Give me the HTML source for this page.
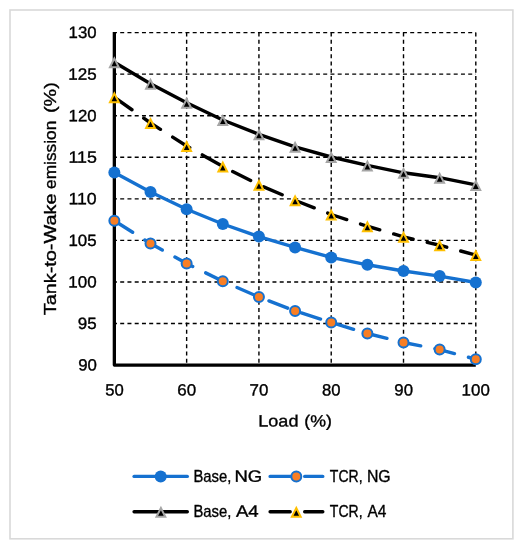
<!DOCTYPE html>
<html lang="en"><head><meta charset="utf-8"><title>Tank-to-Wake emission vs Load</title>
<style>
html,body{margin:0;padding:0;background:#fff}
body{width:524px;height:550px;overflow:hidden}
svg{display:block}
svg text{font-family:"Liberation Sans",sans-serif;font-size:16.4px;fill:#000;stroke:#000;stroke-width:0.35px}
</style></head><body>
<svg width="524" height="550" viewBox="0 0 524 550">
<rect x="0" y="0" width="524" height="550" fill="#fff"/>
<rect x="10" y="10" width="502.9" height="528.8" fill="#fff" stroke="#d9d9d9" stroke-width="1.6"/>
<g stroke="#000" stroke-width="1.4" stroke-dasharray="4 3.25" fill="none">
<line x1="114.35" y1="32.60" x2="475.80" y2="32.60" stroke-dashoffset="1.4"/>
<line x1="114.35" y1="74.16" x2="475.80" y2="74.16" stroke-dashoffset="1.4"/>
<line x1="114.35" y1="115.72" x2="475.80" y2="115.72" stroke-dashoffset="1.4"/>
<line x1="114.35" y1="157.29" x2="475.80" y2="157.29" stroke-dashoffset="1.4"/>
<line x1="114.35" y1="198.85" x2="475.80" y2="198.85" stroke-dashoffset="1.4"/>
<line x1="114.35" y1="240.41" x2="475.80" y2="240.41" stroke-dashoffset="1.4"/>
<line x1="114.35" y1="281.98" x2="475.80" y2="281.98" stroke-dashoffset="1.4"/>
<line x1="114.35" y1="323.54" x2="475.80" y2="323.54" stroke-dashoffset="1.4"/>
<line x1="186.64" y1="32.60" x2="186.64" y2="365.10"/>
<line x1="258.93" y1="32.60" x2="258.93" y2="365.10"/>
<line x1="331.22" y1="32.60" x2="331.22" y2="365.10"/>
<line x1="403.51" y1="32.60" x2="403.51" y2="365.10"/>
<line x1="475.80" y1="32.60" x2="475.80" y2="365.10"/>
</g>
<polyline points="114.35,32.10 114.35,365.10 475.80,365.10" fill="none" stroke="#000" stroke-width="3.3" stroke-linejoin="round"/>
<polyline points="114.35,172.60 150.50,192.00 186.64,209.20 222.79,224.00 258.93,236.60 295.08,247.40 331.22,257.40 367.37,264.80 403.51,271.00 439.65,276.10 475.80,282.50" fill="none" stroke="#1571d0" stroke-width="3.4" stroke-linejoin="round" stroke-linecap="round"/>
<polyline points="114.35,220.70 150.50,243.60 186.64,263.50 222.79,281.25 258.93,297.05 295.08,311.00 331.22,322.40 367.37,333.50 403.51,342.50 439.65,349.60 475.80,359.20" fill="none" stroke="#1571d0" stroke-width="3.4" stroke-linejoin="round" stroke-dasharray="20.1 14.5" stroke-dashoffset="-1.5" stroke-linecap="round"/>
<polyline points="114.35,62.20 150.50,83.70 186.64,102.80 222.79,120.00 258.93,134.30 295.08,146.80 331.22,157.00 367.37,165.45 403.51,172.80 439.65,177.70 475.80,184.90" fill="none" stroke="#000" stroke-width="3.4" stroke-linejoin="round" stroke-linecap="round"/>
<polyline points="114.35,97.20 150.50,123.00 186.64,146.00 222.79,166.50 258.93,184.80 295.08,200.35 331.22,214.50 367.37,226.25 403.51,236.80 439.65,245.25 475.80,255.10" fill="none" stroke="#000" stroke-width="3.4" stroke-linejoin="round" stroke-dasharray="20.1 14.5" stroke-dashoffset="-1.5" stroke-linecap="round"/>
<g>
<circle cx="114.35" cy="172.60" r="6" fill="#1571d0"/>
<circle cx="150.50" cy="192.00" r="6" fill="#1571d0"/>
<circle cx="186.64" cy="209.20" r="6" fill="#1571d0"/>
<circle cx="222.79" cy="224.00" r="6" fill="#1571d0"/>
<circle cx="258.93" cy="236.60" r="6" fill="#1571d0"/>
<circle cx="295.08" cy="247.40" r="6" fill="#1571d0"/>
<circle cx="331.22" cy="257.40" r="6" fill="#1571d0"/>
<circle cx="367.37" cy="264.80" r="6" fill="#1571d0"/>
<circle cx="403.51" cy="271.00" r="6" fill="#1571d0"/>
<circle cx="439.65" cy="276.10" r="6" fill="#1571d0"/>
<circle cx="475.80" cy="282.50" r="6" fill="#1571d0"/>
<circle cx="114.35" cy="220.70" r="5" fill="#f87e24" stroke="#1571d0" stroke-width="2"/>
<circle cx="150.50" cy="243.60" r="5" fill="#f87e24" stroke="#1571d0" stroke-width="2"/>
<circle cx="186.64" cy="263.50" r="5" fill="#f87e24" stroke="#1571d0" stroke-width="2"/>
<circle cx="222.79" cy="281.25" r="5" fill="#f87e24" stroke="#1571d0" stroke-width="2"/>
<circle cx="258.93" cy="297.05" r="5" fill="#f87e24" stroke="#1571d0" stroke-width="2"/>
<circle cx="295.08" cy="311.00" r="5" fill="#f87e24" stroke="#1571d0" stroke-width="2"/>
<circle cx="331.22" cy="322.40" r="5" fill="#f87e24" stroke="#1571d0" stroke-width="2"/>
<circle cx="367.37" cy="333.50" r="5" fill="#f87e24" stroke="#1571d0" stroke-width="2"/>
<circle cx="403.51" cy="342.50" r="5" fill="#f87e24" stroke="#1571d0" stroke-width="2"/>
<circle cx="439.65" cy="349.60" r="5" fill="#f87e24" stroke="#1571d0" stroke-width="2"/>
<circle cx="475.80" cy="359.20" r="5" fill="#f87e24" stroke="#1571d0" stroke-width="2"/>
<polygon points="114.35,58.42 118.75,67.22 109.95,67.22" fill="#000" stroke="#a5a5a5" stroke-width="2" stroke-linejoin="miter"/>
<polygon points="150.50,79.92 154.90,88.72 146.09,88.72" fill="#000" stroke="#a5a5a5" stroke-width="2" stroke-linejoin="miter"/>
<polygon points="186.64,99.02 191.04,107.82 182.24,107.82" fill="#000" stroke="#a5a5a5" stroke-width="2" stroke-linejoin="miter"/>
<polygon points="222.79,116.22 227.19,125.02 218.39,125.02" fill="#000" stroke="#a5a5a5" stroke-width="2" stroke-linejoin="miter"/>
<polygon points="258.93,130.52 263.33,139.32 254.53,139.32" fill="#000" stroke="#a5a5a5" stroke-width="2" stroke-linejoin="miter"/>
<polygon points="295.08,143.02 299.48,151.82 290.68,151.82" fill="#000" stroke="#a5a5a5" stroke-width="2" stroke-linejoin="miter"/>
<polygon points="331.22,153.22 335.62,162.02 326.82,162.02" fill="#000" stroke="#a5a5a5" stroke-width="2" stroke-linejoin="miter"/>
<polygon points="367.37,161.67 371.76,170.47 362.97,170.47" fill="#000" stroke="#a5a5a5" stroke-width="2" stroke-linejoin="miter"/>
<polygon points="403.51,169.02 407.91,177.82 399.11,177.82" fill="#000" stroke="#a5a5a5" stroke-width="2" stroke-linejoin="miter"/>
<polygon points="439.65,173.92 444.05,182.72 435.25,182.72" fill="#000" stroke="#a5a5a5" stroke-width="2" stroke-linejoin="miter"/>
<polygon points="475.80,181.12 480.20,189.92 471.40,189.92" fill="#000" stroke="#a5a5a5" stroke-width="2" stroke-linejoin="miter"/>
<polygon points="114.35,93.42 118.75,102.22 109.95,102.22" fill="#000" stroke="#ffc000" stroke-width="2" stroke-linejoin="miter"/>
<polygon points="150.50,119.22 154.90,128.02 146.09,128.02" fill="#000" stroke="#ffc000" stroke-width="2" stroke-linejoin="miter"/>
<polygon points="186.64,142.22 191.04,151.02 182.24,151.02" fill="#000" stroke="#ffc000" stroke-width="2" stroke-linejoin="miter"/>
<polygon points="222.79,162.72 227.19,171.52 218.39,171.52" fill="#000" stroke="#ffc000" stroke-width="2" stroke-linejoin="miter"/>
<polygon points="258.93,181.02 263.33,189.82 254.53,189.82" fill="#000" stroke="#ffc000" stroke-width="2" stroke-linejoin="miter"/>
<polygon points="295.08,196.57 299.48,205.37 290.68,205.37" fill="#000" stroke="#ffc000" stroke-width="2" stroke-linejoin="miter"/>
<polygon points="331.22,210.72 335.62,219.52 326.82,219.52" fill="#000" stroke="#ffc000" stroke-width="2" stroke-linejoin="miter"/>
<polygon points="367.37,222.47 371.76,231.27 362.97,231.27" fill="#000" stroke="#ffc000" stroke-width="2" stroke-linejoin="miter"/>
<polygon points="403.51,233.02 407.91,241.82 399.11,241.82" fill="#000" stroke="#ffc000" stroke-width="2" stroke-linejoin="miter"/>
<polygon points="439.65,241.47 444.05,250.27 435.25,250.27" fill="#000" stroke="#ffc000" stroke-width="2" stroke-linejoin="miter"/>
<polygon points="475.80,251.32 480.20,260.12 471.40,260.12" fill="#000" stroke="#ffc000" stroke-width="2" stroke-linejoin="miter"/>
</g>
<g>
<text x="68.57" y="38.06" transform="matrix(1 0.0005 0 1 0 0)" textLength="27.97" lengthAdjust="spacingAndGlyphs">130</text>
<text x="68.37" y="79.62" transform="matrix(1 0.0005 0 1 0 0)" textLength="28.43" lengthAdjust="spacingAndGlyphs">125</text>
<text x="68.58" y="121.18" transform="matrix(1 0.0005 0 1 0 0)" textLength="27.95" lengthAdjust="spacingAndGlyphs">120</text>
<text x="68.45" y="162.75" transform="matrix(1 0.0005 0 1 0 0)" textLength="28.50" lengthAdjust="spacingAndGlyphs">115</text>
<text x="68.49" y="204.31" transform="matrix(1 0.0005 0 1 0 0)" textLength="28.25" lengthAdjust="spacingAndGlyphs">110</text>
<text x="68.48" y="245.87" transform="matrix(1 0.0005 0 1 0 0)" textLength="28.18" lengthAdjust="spacingAndGlyphs">105</text>
<text x="68.37" y="287.44" transform="matrix(1 0.0005 0 1 0 0)" textLength="28.41" lengthAdjust="spacingAndGlyphs">100</text>
<text x="77.85" y="329.00" transform="matrix(1 0.0005 0 1 0 0)" textLength="18.85" lengthAdjust="spacingAndGlyphs">95</text>
<text x="78.18" y="370.56" transform="matrix(1 0.0005 0 1 0 0)" textLength="18.74" lengthAdjust="spacingAndGlyphs">90</text>
</g>
<g>
<text x="105.20" y="395.44" transform="matrix(1 0.0005 0 1 0 0)" textLength="18.55" lengthAdjust="spacingAndGlyphs">50</text>
<text x="177.39" y="395.41" transform="matrix(1 0.0005 0 1 0 0)" textLength="18.91" lengthAdjust="spacingAndGlyphs">60</text>
<text x="249.57" y="395.37" transform="matrix(1 0.0005 0 1 0 0)" textLength="18.83" lengthAdjust="spacingAndGlyphs">70</text>
<text x="322.09" y="395.33" transform="matrix(1 0.0005 0 1 0 0)" textLength="18.56" lengthAdjust="spacingAndGlyphs">80</text>
<text x="394.33" y="395.30" transform="matrix(1 0.0005 0 1 0 0)" textLength="18.70" lengthAdjust="spacingAndGlyphs">90</text>
<text x="461.61" y="395.26" transform="matrix(1 0.0005 0 1 0 0)" textLength="28.19" lengthAdjust="spacingAndGlyphs">100</text>
</g>
<g>
<text x="258.28" y="426.36" transform="matrix(1 0.0005 0 1 0 0)" textLength="40.18" lengthAdjust="spacingAndGlyphs">Load</text>
<text x="304.39" y="426.34" transform="matrix(1 0.0005 0 1 0 0)" textLength="27.58" lengthAdjust="spacingAndGlyphs">(%)</text>
<text transform="translate(55.9 315.23) rotate(-90)" textLength="121.66" lengthAdjust="spacingAndGlyphs">Tank-to-Wake</text>
<text transform="translate(55.9 188.99) rotate(-90)" textLength="68.31" lengthAdjust="spacingAndGlyphs">emission</text>
<text transform="translate(55.9 113.05) rotate(-90)" textLength="30.82" lengthAdjust="spacingAndGlyphs">(%)</text>
</g>
<g>
<line x1="134.1" y1="476.4" x2="187.3" y2="476.4" stroke="#1571d0" stroke-width="3.4" stroke-linecap="round"/>
<circle cx="160.70" cy="476.40" r="6" fill="#1571d0"/>
<text x="193.42" y="481.59" transform="matrix(1 0.0005 0 1 0 0)" textLength="37.87" lengthAdjust="spacingAndGlyphs">Base,</text>
<text x="234.46" y="481.58" transform="matrix(1 0.0005 0 1 0 0)" textLength="27.76" lengthAdjust="spacingAndGlyphs">NG</text>
<line x1="268.6" y1="476.4" x2="322.8" y2="476.4" stroke="#1571d0" stroke-width="3.4" stroke-dasharray="20.1 14.5" stroke-dashoffset="-1.5" stroke-linecap="round"/>
<circle cx="296.30" cy="476.40" r="5" fill="#f87e24" stroke="#1571d0" stroke-width="2"/>
<text x="329.87" y="481.53" transform="matrix(1 0.0005 0 1 0 0)" textLength="32.71" lengthAdjust="spacingAndGlyphs">TCR,</text>
<text x="366.90" y="481.51" transform="matrix(1 0.0005 0 1 0 0)" textLength="23.78" lengthAdjust="spacingAndGlyphs">NG</text>
<line x1="134.1" y1="511.8" x2="187.3" y2="511.8" stroke="#000" stroke-width="3.4" stroke-linecap="round"/>
<polygon points="160.90,508.02 165.30,516.82 156.50,516.82" fill="#000" stroke="#a5a5a5" stroke-width="2" stroke-linejoin="miter"/>
<text x="193.42" y="516.69" transform="matrix(1 0.0005 0 1 0 0)" textLength="37.87" lengthAdjust="spacingAndGlyphs">Base,</text>
<text x="235.90" y="516.68" transform="matrix(1 0.0005 0 1 0 0)" textLength="22.81" lengthAdjust="spacingAndGlyphs">A4</text>
<line x1="268.6" y1="511.8" x2="322.8" y2="511.8" stroke="#000" stroke-width="3.4" stroke-dasharray="20.1 14.5" stroke-dashoffset="-1.5" stroke-linecap="round"/>
<polygon points="296.30,508.02 300.70,516.82 291.90,516.82" fill="#000" stroke="#ffc000" stroke-width="2" stroke-linejoin="miter"/>
<text x="329.87" y="516.63" transform="matrix(1 0.0005 0 1 0 0)" textLength="32.71" lengthAdjust="spacingAndGlyphs">TCR,</text>
<text x="367.54" y="516.61" transform="matrix(1 0.0005 0 1 0 0)" textLength="18.94" lengthAdjust="spacingAndGlyphs">A4</text>
</g>
</svg>
</body></html>
